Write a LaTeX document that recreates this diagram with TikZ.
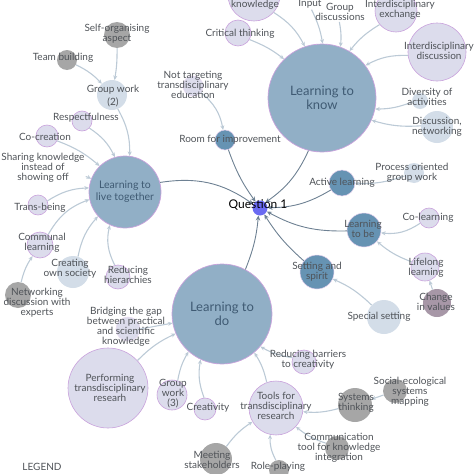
\documentclass[tikz,border=0pt]{standalone}
\usepackage{fontspec}
\setmainfont{Lato}
\usetikzlibrary{arrows.meta}

\definecolor{bigblue}{HTML}{91AFC6}
\definecolor{bigtext}{HTML}{3F5A73}
\definecolor{darkblue}{HTML}{6693B3}
\definecolor{lavfill}{HTML}{DCDCEC}
\definecolor{lavrim}{HTML}{C9A2DC}
\definecolor{palefill}{HTML}{D3DDE8}
\definecolor{greyfill}{HTML}{A6A6A6}
\definecolor{mauvefill}{HTML}{A797A7}
\definecolor{tiecol}{HTML}{BCCAD6}
\definecolor{maincol}{HTML}{6E8193}
\definecolor{labelgray}{HTML}{4F5358}
\definecolor{qblue}{HTML}{6A6AF2}

\pgfdeclarelayer{circ}
\pgfdeclarelayer{edges}
\pgfsetlayers{circ,edges,main}

\tikzset{
  bub/.style={circle, inner sep=0pt},
  bigbub/.style={bub, fill=bigblue, draw=lavrim, line width=0.7pt, text=bigtext, align=center},
  darkbub/.style={bub, fill=darkblue, draw=lavrim!50, line width=0.5pt},
  lavbub/.style={bub, fill=lavfill, draw=lavrim, line width=0.6pt},
  palebub/.style={bub, fill=palefill},
  greybub/.style={bub, fill=greyfill},
  lbl/.style={align=center, text=labelgray, font=\fontsize{10}{10}\selectfont, inner sep=1pt},
  tie/.style={draw=tiecol, line width=1.1pt, -{Stealth[length=4.5pt,width=4pt]}},
  maintie/.style={draw=maincol, line width=0.9pt, -{Stealth[length=5pt,width=4.5pt]}},
}

\begin{document}
\begin{tikzpicture}[x=1pt, y=-1pt]
  \useasboundingbox (0,0) rectangle (474,474);
  \clip (0,0) rectangle (474,474);

  % burbujas
  \begin{pgfonlayer}{circ}
  \node[circle, fill=qblue, inner sep=0pt, minimum size=15pt] (q) at (260,208) {};
  \node[bigbub, minimum size=108pt, font=\fontsize{13}{14.5}\selectfont] (ltk) at (322,98) {Learning to\\know};
  \node[bigbub, minimum size=72pt, font=\fontsize{10.5}{12}\selectfont] (ltlt) at (125,192) {Learning to\\live together};
  \node[bigbub, minimum size=100pt, font=\fontsize{13}{14.5}\selectfont] (ltd) at (222,314) {Learning to\\do};
  \node[darkbub, minimum size=34pt] (ltb) at (364,230) {};
  \node[darkbub, minimum size=26pt] (active) at (342,183) {};
  \node[darkbub, minimum size=34pt] (setting) at (317,272) {};
  \node[darkbub, minimum size=20pt] (room) at (225,140) {};

  \node[lavbub, minimum size=52pt] (know) at (254,-5) {};
  \node[lavbub, minimum size=42pt] (idx) at (396,11) {};
  \node[lavbub, minimum size=58pt] (idd) at (437,52) {};
  \node[palebub, minimum size=16pt] (divc) at (420,101) {};
  \node[palebub, minimum size=32pt] (disc) at (437,127) {};
  \node[lavbub, minimum size=26pt] (crit) at (238,33) {};
  \node[lavbub, draw=lavrim!40, minimum size=20pt] (nott) at (193,86) {};

  \node[greybub, minimum size=26pt] (self) at (117,35) {};
  \node[greybub, minimum size=20pt] (team) at (67,60) {};
  \node[palebub, minimum size=30pt] (gw2) at (112,95) {};
  \node[lavbub, minimum size=20pt] (resp) at (82,121) {};
  \node[lavbub, minimum size=22pt] (cocr) at (47,136) {};
  \node[lavbub, minimum size=20pt] (trans) at (38,205) {};
  \node[lavbub, minimum size=26pt] (comm) at (40,245) {};
  \node[palebub, minimum size=32pt] (create) at (73,272) {};
  \node[lavbub, minimum size=24pt] (hier) at (118,277) {};
  \node[greybub, minimum size=26pt] (netw) at (18,295) {};

  \node[lavbub, draw=lavrim!40, minimum size=24pt] (bridge) at (128,329) {};
  \node[lavbub, minimum size=80pt] (perf) at (108,388) {};
  \node[lavbub, minimum size=30pt] (gw3) at (172,395) {};
  \node[lavbub, minimum size=22pt] (crea) at (205,409) {};
  \node[greybub, minimum size=32pt] (meet) at (216,459) {};
  \node[greybub, minimum size=20pt] (role) at (279,470) {};
  \node[lavbub, minimum size=54pt] (tools) at (276,408) {};
  \node[lavbub, minimum size=24pt] (barr) at (304,362) {};
  \node[greybub, minimum size=34pt] (sys) at (355,405) {};
  \node[greybub, minimum size=24pt] (soc) at (395,391) {};
  \node[greybub, minimum size=24pt] (commtool) at (337,448) {};

  \node[lavbub, minimum size=20pt] (colearn) at (429,218) {};
  \node[lavbub, minimum size=28pt] (life) at (425,267) {};
  \node[bub, fill=mauvefill, minimum size=28pt] (change) at (437,303) {};
  \node[palebub, minimum size=20pt] (proc) at (414,173) {};
  \node[palebub, minimum size=34pt] (special) at (384,317) {};
  \end{pgfonlayer}

  % textos
  \node[font=\fontsize{12}{13}\selectfont] (tq) at (258,205) {Question 1};
  \node[lbl] (tknow) at (255,5) {knowledge};
  \node[lbl] (input) at (310,4) {Input};
  \node[lbl] (gdisc) at (340,12) {Group\\discussions};
  \node[lbl] (tidx) at (400,10) {Interdisciplinary\\exchange};
  \node[lbl] (tidd) at (439,51) {Interdisciplinary\\discussion};
  \node[lbl] (tdiv) at (427,97) {Diversity of\\activities};
  \node[lbl] (tdisc) at (437,127) {Discussion,\\networking};
  \node[lbl] (tcrit) at (240,34) {Critical thinking};
  \node[lbl] (tnott) at (193,85) {Not targeting\\transdisciplinary\\education};
  \node[lbl] (troom) at (230,140) {Room for improvement};

  \node[lbl] (tself) at (117,34) {Self-organising\\aspect};
  \node[lbl] (tteam) at (63,58) {Team building};
  \node[lbl] (tgw2) at (113,96) {Group work\\[3pt](2)};
  \node[lbl] (tresp) at (86,118) {Respectfulness};
  \node[lbl] (tcocr) at (45,137) {Co-creation};
  \node[lbl] (share) at (43,168) {Sharing knowledge\\instead of\\showing off};
  \node[lbl] (ttrans) at (40,208) {Trans-being};
  \node[lbl] (tcomm) at (42,243) {Communal\\learning};
  \node[lbl] (tcreate) at (70,269) {Creating\\own society};
  \node[lbl] (thier) at (128,275) {Reducing\\hierarchies};
  \node[lbl] (tnetw) at (37,303) {Networking\\discussion with\\experts};

  \node[lbl] (tbridge) at (126,327) {Bridging the gap\\between practical\\and scientific\\knowledge};
  \node[lbl] (tperf) at (110,388) {Performing\\transdisciplinary\\researh};
  \node[lbl] (tgw3) at (173,394) {Group\\work\\(3)};
  \node[lbl] (tcrea) at (208,408) {Creativity};
  \node[lbl] (tmeet) at (212,460) {Meeting\\stakeholders};
  \node[lbl] (trole) at (278,467) {Role-playing};
  \node[lbl] (ttools) at (276,406) {Tools for\\transdisciplinary\\research};
  \node[lbl] (tbarr) at (308,360) {Reducing barriers\\to creativity};
  \node[lbl] (tsys) at (356,403) {Systems\\thinking};
  \node[lbl] (tsoc) at (410,392) {Social-ecological\\systems\\mapping};
  \node[lbl] (tcommtool) at (339,448) {Communication\\tool for knowledge\\integration};
  \node[lbl] (legend) at (42,467) {LEGEND};

  \node[lbl] (tltb) at (363,229) {Learning\\to be};
  \node[lbl] (tactive) at (342,183) {Active learning};
  \node[lbl] (tsetting) at (317,272) {Setting and\\spirit};
  \node[lbl] (tproc) at (412,173) {Process oriented\\group work};
  \node[lbl] (tcolearn) at (428,218) {Co-learning};
  \node[lbl] (tlife) at (426,268) {Lifelong\\learning};
  \node[lbl] (tchange) at (436,302) {Change\\in values};
  \node[lbl] (tspecial) at (379,317) {Special setting};

  \begin{pgfonlayer}{edges}
  % flechas hacia Question 1
  \draw[maintie] (ltk) to[bend left=15] (q);
  \draw[maintie] (ltlt) to[bend left=22] (q);
  \draw[maintie] (ltd) to[bend right=8] (q);
  \draw[maintie] (ltb) to[bend left=15] (q);
  \draw[maintie] (active) to[bend left=15] (q);
  \draw[maintie] (setting) to[bend left=8] (q);
  \draw[maintie] (room) to[bend right=8] (q);

  % flechas de las hojas
  \draw[tie] (know) to[bend left=15] (ltk);
  \draw[tie] (input) to[bend left=8] (ltk);
  \draw[tie] (gdisc) to[bend left=8] (ltk);
  \draw[tie] (idx) to[bend right=10] (ltk);
  \draw[tie] (idd) to[bend right=15] (ltk);
  \draw[tie] (divc) to[bend left=10] (ltk);
  \draw[tie] (disc) to[bend left=10] (ltk);
  \draw[tie] (crit) to[bend left=8] (ltk);
  \draw[tie] (nott) to[bend left=20] (room);

  \draw[tie] (self) to[bend left=5] (gw2);
  \draw[tie] (team) to[bend left=10] (gw2);
  \draw[tie] (gw2) to[bend left=15] (ltlt);
  \draw[tie] (resp) to[bend left=15] (ltlt);
  \draw[tie] (cocr) to[bend left=10] (ltlt);
  \draw[tie] (share) to[bend left=5] (ltlt);
  \draw[tie] (trans) to[bend left=15] (ltlt);
  \draw[tie] (comm) to[bend left=20] (ltlt);
  \draw[tie] (create) to[bend left=15] (ltlt);
  \draw[tie] (hier) to[bend left=20] (ltlt);
  \draw[tie] (netw) to[bend left=10] (comm);

  \draw[tie] (bridge.east) -- (ltd);
  \draw[tie] (perf) to[bend left=10] (ltd);
  \draw[tie] (gw3) to[bend left=10] (ltd);
  \draw[tie] (crea) to[bend left=15] (ltd);
  \draw[tie] (barr) to[bend left=10] (ltd);
  \draw[tie] (tools) to[bend right=10] (ltd);
  \draw[tie] (meet) to[bend left=10] (tools);
  \draw[tie] (role) to[bend left=15] (tools);
  \draw[tie] (sys) to[bend left=10] (tools);
  \draw[tie] (soc) -- (sys);
  \draw[tie] (commtool) to[bend left=10] (tools);

  \draw[tie] (proc) to[bend left=10] (active);
  \draw[tie] (colearn) to[bend left=20] (ltb);
  \draw[tie] (life) to[bend left=10] (ltb);
  \draw[tie] (change) -- (life);
  \draw[tie] (special) to[bend right=10] (setting);
  \end{pgfonlayer}
\end{tikzpicture}
\end{document}
